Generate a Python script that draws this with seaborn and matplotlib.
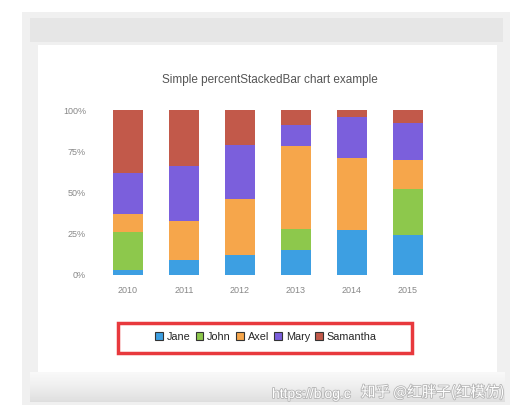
import matplotlib
matplotlib.use("Agg")
import matplotlib.pyplot as plt
import matplotlib.patheffects as pe
from matplotlib.patches import Rectangle, Patch
import numpy as np
import pandas as pd
import seaborn as sns

# values (percent of each bar)
categories = ["2010", "2011", "2012", "2013", "2014", "2015"]
series_names = ["Jane", "John", "Axel", "Mary", "Samantha"]
jane = [3, 9, 12, 15, 27, 24]
john = [23, 0, 0, 13, 0, 28]
axel = [11, 24, 34, 50, 44, 18]
mary = [25, 33, 33, 13, 25, 22]
samantha = [38, 34, 21, 9, 4, 8]
colors = ["#3d9fe2", "#8dc84c", "#f6a64b", "#7b5fdc", "#c2594a"]
y_ticks = [0, 25, 50, 75, 100]
y_labels = ["0%", "25%", "50%", "75%", "100%"]

sns.set_theme(style="white")
plt.rcParams["font.family"] = ["Liberation Sans", "Noto Sans CJK SC", "DejaVu Sans"]

df = pd.DataFrame({"cat": categories, "Jane": jane, "John": john, "Axel": axel,
                   "Mary": mary, "Samantha": samantha})
cum = df[series_names].cumsum(axis=1)
cum["cat"] = df["cat"]

fig = plt.figure(figsize=(5.17, 4.12), dpi=100)
fig.patch.set_facecolor("white")

# window-like background
bg = fig.add_axes([0, 0, 1, 1], zorder=-5)
bg.set_xlim(0, 517)
bg.set_ylim(412, 0)
bg.axis("off")
bg.add_patch(Rectangle((22, 12), 488, 393, facecolor="#f0f0f0", edgecolor="none"))
bg.add_patch(Rectangle((30, 18), 473, 24, facecolor="#e6e6e6", edgecolor="none"))
bg.add_patch(Rectangle((38, 45), 459, 335, facecolor="white", edgecolor="none"))
grad = np.linspace(0, 1, 50).reshape(-1, 1)
bg.imshow(grad, extent=(30, 505, 402, 372), cmap="Greys", vmin=-0.3, vmax=5.6,
          aspect="auto", zorder=1)
bg.add_patch(Rectangle((118, 323), 294, 30, facecolor="none", edgecolor="#e8393d",
                       linewidth=2.5, zorder=3))
shade = [pe.withStroke(linewidth=1.2, foreground="#b5b5b5")]
bg.text(272, 394, "https://blog.c", fontsize=10, color="white",
        va="center", ha="left", zorder=4, path_effects=shade)
bg.text(505, 392, "知乎 @红胖子(红模仿)", fontsize=10.5, color="white",
        va="center", ha="right", zorder=5, path_effects=shade,
        family=["Noto Sans CJK SC", "DejaVu Sans"])

ax = fig.add_axes([100 / 517, 137 / 412, 336 / 517, 165 / 412])
ax.set_facecolor("none")
for name, color in zip(reversed(series_names), reversed(colors)):
    sns.barplot(data=cum, x="cat", y=name, color=color, width=0.52,
                saturation=1, linewidth=0, ax=ax)

ax.set_ylim(0, 100)
ax.set_yticks(y_ticks)
ax.set_yticklabels(y_labels)
ax.set_xlabel("")
ax.set_ylabel("")
ax.tick_params(axis="both", labelsize=6.5, colors="#888888", length=0)
ax.tick_params(axis="y", pad=10)
ax.tick_params(axis="x", pad=8)
sns.despine(ax=ax, left=True, bottom=True)

fig.text(270 / 517, 1 - 80 / 412, "Simple percentStackedBar chart example",
         ha="center", va="center", fontsize=8.5, color="#555555")

handles = [Patch(facecolor=c, edgecolor="#333333", linewidth=0.8) for c in colors]
fig.legend(handles, series_names, loc="center", bbox_to_anchor=(266 / 517, 1 - 337 / 412),
           ncol=5, frameon=False, fontsize=7.8, handlelength=0.7, handleheight=0.7,
           columnspacing=0.5, handletextpad=0.35)

fig.savefig("out.png", dpi=100)
